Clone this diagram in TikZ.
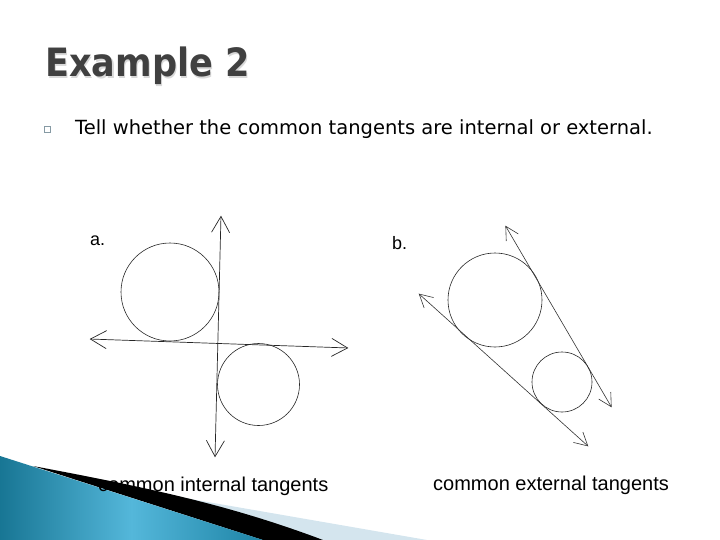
\documentclass[tikz,border=0pt]{standalone}
\usepackage{fontspec}
\setmainfont{Liberation Sans}
\newfontfamily\titlefont{DejaVu Sans Condensed}
\newfontfamily\bodyfont{DejaVu Sans}
\usetikzlibrary{arrows.meta}
\definecolor{titlegray}{RGB}{64,64,64}
\definecolor{bandlight}{RGB}{212,229,238}
\definecolor{tealdark}{RGB}{24,118,148}
\definecolor{teallight}{RGB}{84,183,218}
\definecolor{tealmid}{RGB}{30,132,166}
\begin{document}
\begin{tikzpicture}[x=1pt, y=-1pt,
		tangent/.style={draw=black!85, line width=0.7pt, <->, >={Straight Barb[length=16pt,width=18pt]}},
		tangentb/.style={draw=black!80, line width=0.6pt, <->, >={Straight Barb[length=13pt,width=14pt]}},
		ring/.style={circle, draw=black!85, line width=0.6pt, inner sep=0pt},
		lbl/.style={inner sep=0pt, anchor=base west, font=\fontsize{20}{23}\selectfont}]
			\useasboundingbox (0,0) rectangle (720,540);

			\fill[bandlight] (0,466) -- (427,540) -- (0,540) -- cycle;
			\fill[black] (33,466) .. controls (150,488) and (230,505) .. (323,540) -- (263,540) -- cycle;
			\shade[left color=tealdark, right color=tealmid, middle color=teallight] (0,456) -- (263,540) -- (0,540) -- cycle;

			\node[inner sep=0pt, anchor=base west, text=black!15, font=\titlefont\bfseries\fontsize{39}{44}\selectfont] (shadow) at (46.5,78.5) {Example 2};
			\node[inner sep=0pt, anchor=base west, text=titlegray, font=\titlefont\bfseries\fontsize{39}{44}\selectfont] (title) at (45,77) {Example 2};
			\node[draw=gray!80!cyan, line width=0.5pt, minimum size=6pt, inner sep=0pt] (bullet) at (47,129) {};
			\node[inner sep=0pt, anchor=base west, font=\bodyfont\fontsize{19.5}{22}\selectfont] (task) at (75,135) {Tell whether the common tangents are internal or external.};

			\node[lbl, font=\fontsize{18}{20}\selectfont] (la) at (90,245) {a.};
			\node[lbl, font=\fontsize{18}{20}\selectfont] (lb) at (392,249) {b.};
			\node[lbl] (capa) at (98,491) {common internal tangents};
			\node[lbl] (capb) at (433,490) {common external tangents};

			\node[ring, minimum size=98pt] (ca) at (170,292) {};
			\node[ring, minimum size=82pt] (cb) at (258.5,384.5) {};
			\node[inner sep=0pt] (vt) at (221,215) {};
			\node[inner sep=0pt] (vb) at (215,458) {};
			\node[inner sep=0pt] (hl) at (89,339) {};
			\node[inner sep=0pt] (hr) at (349,348) {};

			\node[ring, minimum size=94pt] (cc) at (495,300) {};
			\node[ring, minimum size=60pt] (cd) at (562,382) {};
			\node[inner sep=0pt] (rt) at (505,225) {};
			\node[inner sep=0pt] (rb) at (612,408) {};
			\node[inner sep=0pt] (lt) at (418,293) {};
			\node[inner sep=0pt] (lbt) at (589,447) {};

			\draw[tangent] (vt) -- (vb);
			\draw[tangent] (hl) -- (hr);
			\draw[tangentb] (rt) -- (rb);
			\draw[tangentb] (lt) -- (lbt);
		\end{tikzpicture}
\end{document}
